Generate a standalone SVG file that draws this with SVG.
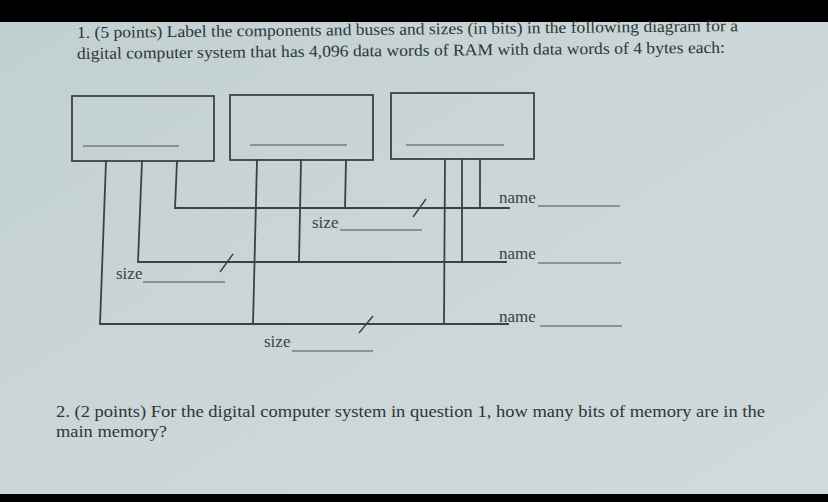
<svg xmlns="http://www.w3.org/2000/svg" width="828" height="502" viewBox="0 0 828 502">
  <defs>
    <linearGradient id="paper" x1="0" y1="0" x2="1" y2="1">
      <stop offset="0" stop-color="#c2cfd1"/>
      <stop offset="0.5" stop-color="#cad6d7"/>
      <stop offset="1" stop-color="#cfdadb"/>
    </linearGradient>
    <style>
      .box { fill: none; stroke: #3a4244; stroke-width: 1.8; }
      .bus { fill: none; stroke: #3a4244; stroke-width: 1.8; stroke-linecap: square; }
      .blank { fill: none; stroke: #4a5254; stroke-width: 1.1; }
      .slash { fill: none; stroke: #3a4244; stroke-width: 1.4; }
      .lbl { font-family: "Liberation Serif", "Times New Roman", serif; font-size: 17px; fill: #3b4244; }
      .q { font-family: "Liberation Serif", "Times New Roman", serif; fill: #2f3537; }
    </style>
  </defs>

  <rect x="0" y="0" width="828" height="502" fill="url(#paper)"/>
  <rect x="0" y="0" width="828" height="22" fill="#000"/>
  <rect x="0" y="494" width="828" height="8" fill="#000"/>

  <g id="question1" class="q" font-size="16.5">
    <text x="77" y="38" textLength="661" lengthAdjust="spacingAndGlyphs" transform="rotate(-0.6 77 38)">1. (5 points) Label the components and buses and sizes (in bits) in the following diagram for a</text>
    <text x="77" y="59" textLength="648" lengthAdjust="spacingAndGlyphs" transform="rotate(-0.55 77 59)">digital computer system that has 4,096 data words of RAM with data words of 4 bytes each:</text>
  </g>

  <g id="node-left">
    <rect class="box" x="72" y="96" width="142" height="65"/>
    <line class="blank" x1="83" y1="146" x2="179" y2="146"/>
  </g>
  <g id="node-middle">
    <rect class="box" x="230" y="95" width="143" height="65"/>
    <line class="blank" x1="250" y1="145" x2="347" y2="145"/>
  </g>
  <g id="node-right">
    <rect class="box" x="391" y="93" width="143" height="66"/>
    <line class="blank" x1="406" y1="145" x2="504" y2="145"/>
  </g>

  <g id="connectors">
    <!-- top bus y=208 -->
    <polyline class="bus" points="177,161 175,208 509,208"/>
    <line class="bus" x1="346" y1="160" x2="345" y2="208"/>
    <line class="bus" x1="480" y1="159" x2="480" y2="208"/>
    <!-- middle bus y=262 -->
    <polyline class="bus" points="142,161 138,262 506,262"/>
    <line class="bus" x1="301" y1="160" x2="299" y2="262"/>
    <line class="bus" x1="462" y1="159" x2="462" y2="262"/>
    <!-- bottom bus y=324 -->
    <polyline class="bus" points="106,161 100,324 508,324"/>
    <line class="bus" x1="257" y1="160" x2="253" y2="324"/>
    <line class="bus" x1="445" y1="159" x2="444" y2="324"/>
    <!-- width slashes -->
    <line class="slash" x1="413" y1="217" x2="426" y2="199"/>
    <line class="slash" x1="220" y1="272" x2="233" y2="254"/>
    <line class="slash" x1="359" y1="333" x2="373" y2="316"/>
  </g>

  <g id="labels">
    <text class="lbl" x="312" y="228">size</text>
    <line class="blank" x1="340" y1="230" x2="422" y2="230"/>
    <text class="lbl" x="116" y="279">size</text>
    <line class="blank" x1="143" y1="282" x2="225" y2="282"/>
    <text class="lbl" x="264" y="347">size</text>
    <line class="blank" x1="292" y1="351" x2="373" y2="351"/>
    <text class="lbl" x="499" y="203">name</text>
    <line class="blank" x1="538" y1="206" x2="620" y2="206"/>
    <text class="lbl" x="499" y="259">name</text>
    <line class="blank" x1="538" y1="263" x2="621" y2="263"/>
    <text class="lbl" x="499" y="322">name</text>
    <line class="blank" x1="540" y1="326" x2="622" y2="326"/>
  </g>

  <g id="question2" class="q" font-size="17.5">
    <text x="56" y="417" textLength="709" lengthAdjust="spacingAndGlyphs">2. (2 points) For the digital computer system in question 1, how many bits of memory are in the</text>
    <text x="56" y="437" textLength="111" lengthAdjust="spacingAndGlyphs">main memory?</text>
  </g>
</svg>
